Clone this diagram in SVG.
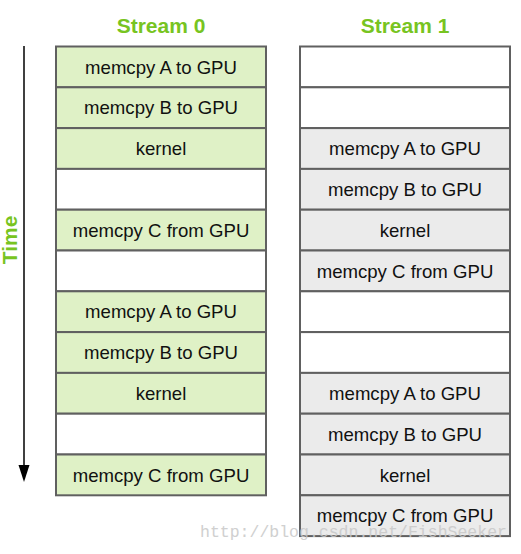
<svg xmlns="http://www.w3.org/2000/svg" width="521" height="554" viewBox="0 0 521 554">
<style>
.title{font-family:"Liberation Sans",Arial,sans-serif;font-weight:bold;font-size:21px;fill:#77c421;text-anchor:middle}
.g rect{fill:#dff1c6;stroke:#606060;stroke-width:2}
.e rect{fill:#ffffff;stroke:#606060;stroke-width:2}
.k rect{fill:#ebebeb;stroke:#606060;stroke-width:2}
.t{font-family:"Liberation Sans",Arial,sans-serif;font-size:18.6px;fill:#111;text-anchor:middle}
.wm{font-family:"Liberation Mono","Courier New",monospace;font-size:16.5px;fill:#c8c8c8;opacity:0.85}
</style>
<rect width="521" height="554" fill="#ffffff"/>
<text class="title" x="161" y="33">Stream 0</text>
<text class="title" x="405" y="33">Stream 1</text>
<text class="title" transform="translate(17,240) rotate(-90)">Time</text>
<g id="connectors">
<line x1="24" y1="46" x2="24" y2="468" stroke="#000" stroke-width="1.5"/>
<polygon points="18.5,465 29.5,465 24,482" fill="#000"/>
</g>
<g id="s0r0" class="g"><rect x="56" y="46.5" width="210" height="40.8"/><text class="t" x="161" y="73.6">memcpy A to GPU</text></g>
<g id="s0r1" class="g"><rect x="56" y="87.3" width="210" height="40.8"/><text class="t" x="161" y="114.4">memcpy B to GPU</text></g>
<g id="s0r2" class="g"><rect x="56" y="128.1" width="210" height="40.8"/><text class="t" x="161" y="155.2">kernel</text></g>
<g id="s0r3" class="e"><rect x="56" y="168.9" width="210" height="40.8"/></g>
<g id="s0r4" class="g"><rect x="56" y="209.7" width="210" height="40.8"/><text class="t" x="161" y="236.8">memcpy C from GPU</text></g>
<g id="s0r5" class="e"><rect x="56" y="250.5" width="210" height="40.8"/></g>
<g id="s0r6" class="g"><rect x="56" y="291.3" width="210" height="40.8"/><text class="t" x="161" y="318.4">memcpy A to GPU</text></g>
<g id="s0r7" class="g"><rect x="56" y="332.1" width="210" height="40.8"/><text class="t" x="161" y="359.2">memcpy B to GPU</text></g>
<g id="s0r8" class="g"><rect x="56" y="372.9" width="210" height="40.8"/><text class="t" x="161" y="400">kernel</text></g>
<g id="s0r9" class="e"><rect x="56" y="413.7" width="210" height="40.8"/></g>
<g id="s0r10" class="g"><rect x="56" y="454.5" width="210" height="40.8"/><text class="t" x="161" y="481.6">memcpy C from GPU</text></g>

<g id="s1r0" class="e"><rect x="300" y="46.5" width="210" height="40.8"/></g>
<g id="s1r1" class="e"><rect x="300" y="87.3" width="210" height="40.8"/></g>
<g id="s1r2" class="k"><rect x="300" y="128.1" width="210" height="40.8"/><text class="t" x="405" y="155.2">memcpy A to GPU</text></g>
<g id="s1r3" class="k"><rect x="300" y="168.9" width="210" height="40.8"/><text class="t" x="405" y="196">memcpy B to GPU</text></g>
<g id="s1r4" class="k"><rect x="300" y="209.7" width="210" height="40.8"/><text class="t" x="405" y="236.8">kernel</text></g>
<g id="s1r5" class="k"><rect x="300" y="250.5" width="210" height="40.8"/><text class="t" x="405" y="277.6">memcpy C from GPU</text></g>
<g id="s1r6" class="e"><rect x="300" y="291.3" width="210" height="40.8"/></g>
<g id="s1r7" class="e"><rect x="300" y="332.1" width="210" height="40.8"/></g>
<g id="s1r8" class="k"><rect x="300" y="372.9" width="210" height="40.8"/><text class="t" x="405" y="400">memcpy A to GPU</text></g>
<g id="s1r9" class="k"><rect x="300" y="413.7" width="210" height="40.8"/><text class="t" x="405" y="440.8">memcpy B to GPU</text></g>
<g id="s1r10" class="k"><rect x="300" y="454.5" width="210" height="40.8"/><text class="t" x="405" y="481.6">kernel</text></g>
<g id="s1r11" class="k"><rect x="300" y="495.3" width="210" height="40.8"/><text class="t" x="405" y="522.4">memcpy C from GPU</text></g>
<text class="wm" x="200" y="537">http://blog.csdn.net/FishSeeker</text>
</svg>
